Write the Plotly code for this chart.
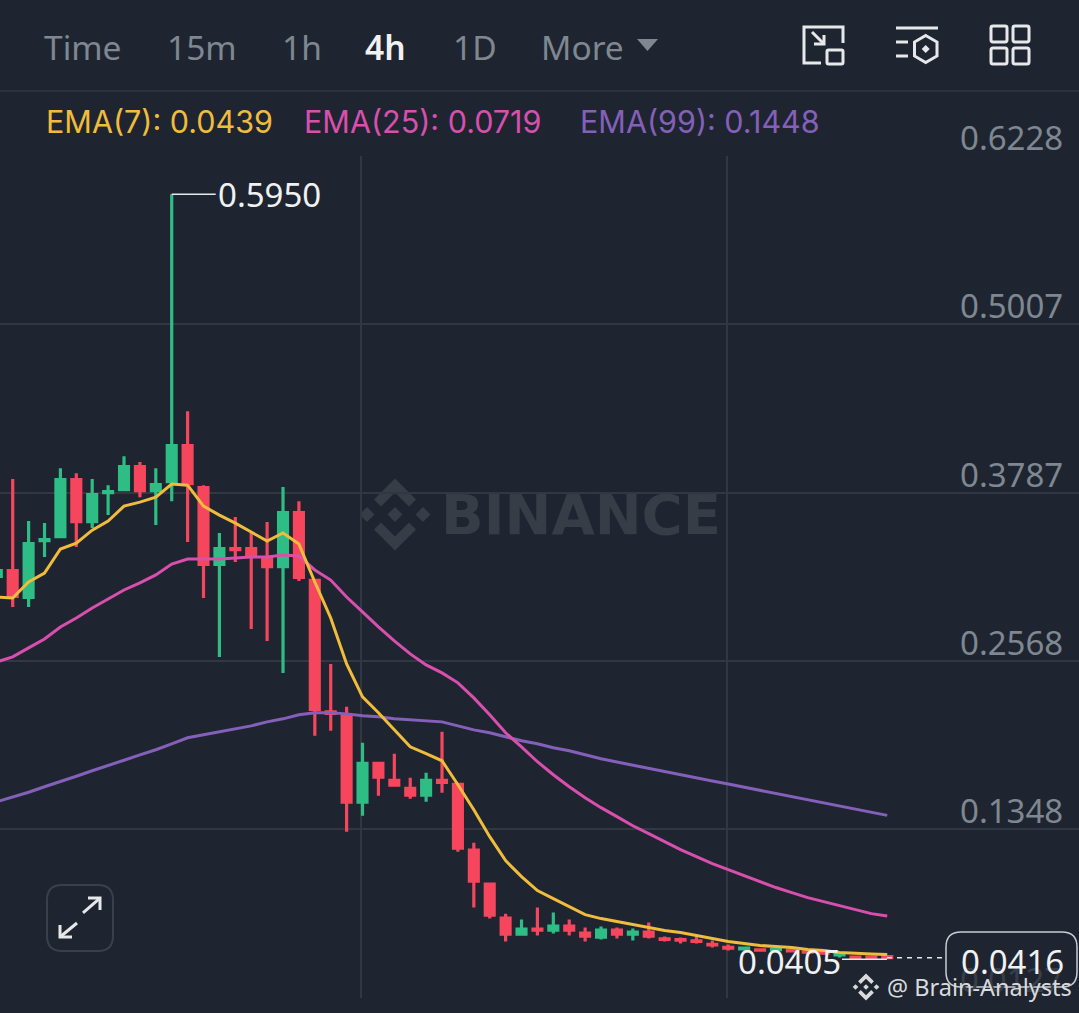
import plotly.graph_objects as go

W = 1079
H = 1013
BG = "#1e2530"
GRID = "#323843"
UP = "#2ebd85"
DOWN = "#f6465d"
FONT = "Noto Sans"

candle_idx = list(range(-1, 56))

opens = [.3180, .3223, .3028, .3440, .3469, .3882, .3578, .3788, .3810, .3976, .3802, .3868, .4128, .3824, .3267,
         .3382, .3382, .3310, .3252, .3643, .3151, .2199, .2166, .1544, .1826, .1703, .1645, .1594, .1703, .1674,
         .1196, .0950, .0704, .0588, .0624, .0617, .0646, .0595, .0566, .0617, .0588, .0602, .0554, .0547, .0539,
         .0514, .0492, .0480, .0473, .0475, .0470, .0459, .0451, .0437, .0420, .0420, .0425]
highs = [.3234, .3886, .3582, .3567, .3965, .3929, .3886, .3842, .4052, .4009, .3965, .5950, .4378, .3842, .3495,
         .3611, .3495, .3574, .3828, .3726, .3162, .2546, .2235, .1974, .1837, .1895, .1721, .1757, .2054, .1685,
         .1250, .0961, .0736, .0693, .0780, .0744, .0693, .0635, .0642, .0635, .0628, .0671, .0570, .0563, .0570,
         .0541, .0512, .0497, .0483, .0490, .0483, .0468, .0461, .0454, .0432, .0428, .0427]
lows = [.3169, .2959, .2959, .3321, .3459, .3393, .3531, .3625, .3799, .3755, .3553, .3726, .3430, .3024, .2597,
        .3285, .2800, .2713, .2481, .3147, .2025, .2061, .1330, .1446, .1591, .1656, .1569, .1547, .1612, .1185,
        .0780, .0700, .0534, .0577, .0577, .0592, .0577, .0534, .0548, .0555, .0541, .0555, .0534, .0519, .0519,
        .0490, .0468, .0468, .0461, .0461, .0454, .0447, .0439, .0418, .0410, .0410, .0405]
closes = [.3223, .3035, .3419, .3448, .3882, .3578, .3773, .3795, .3976, .3802, .3846, .4128, .3853, .3267, .3382,
          .3375, .3332, .3252, .3643, .3173, .2217, .2188, .1544, .1826, .1725, .1667, .1594, .1703, .1688, .1211,
          .0972, .0725, .0588, .0624, .0617, .0646, .0617, .0573, .0617, .0588, .0602, .0573, .0550, .0543, .0535,
          .0510, .0486, .0486, .0471, .0477, .0466, .0457, .0449, .0441, .0418, .0418, .0416]

ema7 = [.3031, .3024, .3140, .3205, .3379, .3422, .3516, .3582, .3690, .3719, .3755, .3850, .3842, .3690, .3625,
        .3567, .3502, .3437, .3495, .3415, .3140, .2879, .2546, .2307, .2192, .2068, .1945, .1895, .1844, .1670,
        .1489, .1294, .1120, .1004, .0903, .0845, .0787, .0729, .0700, .0678, .0657, .0635, .0613, .0599, .0577,
        .0555, .0534, .0519, .0505, .0497, .0490, .0476, .0468, .0454, .0447, .0443, .0439]
ema25 = [.2561, .2597, .2662, .2727, .2814, .2879, .2952, .3017, .3082, .3133, .3191, .3270, .3307, .3307, .3307,
         .3314, .3321, .3321, .3335, .3328, .3227, .3154, .3031, .2923, .2814, .2713, .2619, .2539, .2481, .2409,
         .2300, .2177, .2047, .1945, .1837, .1743, .1656, .1576, .1504, .1439, .1373, .1316, .1258, .1200, .1149,
         .1098, .1055, .1011, .0968, .0925, .0888, .0852, .0823, .0794, .0765, .0736, .0719]
ema99 = [.1547, .1580, .1616, .1656, .1692, .1732, .1772, .1808, .1848, .1887, .1924, .1967, .2011, .2032, .2054,
         .2076, .2097, .2126, .2148, .2177, .2192, .2192, .2184, .2170, .2163, .2148, .2141, .2134, .2126, .2097,
         .2068, .2047, .2018, .1989, .1967, .1938, .1916, .1887, .1859, .1835, .1813, .1790, .1767, .1743, .1721,
         .1698, .1675, .1652, .1629, .1606, .1583, .1560, .1537, .1514, .1491, .1468, .1448]

price_ticks = [.6228, .5007, .3787, .2568, .1348, .0128]
price_labels = ["0.6228", "0.5007", "0.3787", "0.2568", "0.1348", "0.0127"]
time_ticks = [21.9, 44.9]
periods = ["Time", "15m", "1h", "4h", "1D", "More"]
period_x = [45, 168, 283, 366, 454, 542]
ema_labels = ["EMA(7): 0.0439", "EMA(25): 0.0719", "EMA(99): 0.1448"]
ema_label_x = [47, 305, 581]
ema_colors = ["#f0bc3c", "#d94fae", "#8560ba"]


def px(x):
    return x / W


def py(y):
    return 1 - y / H


def make_path(points, closed=False):
    s = "M" + " L".join(f"{px(x):.5f},{py(y):.5f}" for x, y in points)
    return s + (" Z" if closed else "")


def round_rect(x0, y0, x1, y1, r):
    # paper-space rounded box, arcs don't convert so use Q
    def p(x, y):
        return f"{px(x):.5f},{py(y):.5f}"
    return (f"M{p(x0 + r, y0)} L{p(x1 - r, y0)} Q{p(x1, y0)} {p(x1, y0 + r)} L{p(x1, y1 - r)} "
            f"Q{p(x1, y1)} {p(x1 - r, y1)} L{p(x0 + r, y1)} Q{p(x0, y1)} {p(x0, y1 - r)} "
            f"L{p(x0, y0 + r)} Q{p(x0, y0)} {p(x0 + r, y0)} Z")


def line_shape(points, color="#e6e8ea", width=3, closed=False, fill=None, layer="above"):
    return dict(type="path", xref="paper", yref="paper", path=make_path(points, closed),
                line=dict(color=color, width=width), fillcolor=fill, layer=layer)


def logo(cx, cy, s, color, layer):
    out = []
    for dx in (-28, 0, 28):
        h = 7.5
        pts = [(cx + dx * s, cy - h * s), (cx + (dx + h) * s, cy), (cx + dx * s, cy + h * s), (cx + (dx - h) * s, cy)]
        out.append(line_shape(pts, color, 0, True, color, layer))
    for sign in (-1, 1):
        pts = [(cx, cy + sign * 36 * s), (cx + 21 * s, cy + sign * 15 * s), (cx + 14 * s, cy + sign * 8 * s),
               (cx, cy + sign * 22 * s), (cx - 14 * s, cy + sign * 8 * s), (cx - 21 * s, cy + sign * 15 * s)]
        out.append(line_shape(pts, color, 0, True, color, layer))
    return out


fig = go.Figure()
fig.add_trace(go.Candlestick(
    x=candle_idx, open=opens, high=highs, low=lows, close=closes,
    increasing=dict(line=dict(color=UP, width=3.2), fillcolor=UP),
    decreasing=dict(line=dict(color=DOWN, width=3.2), fillcolor=DOWN),
    showlegend=False,
))
for vals, col in zip([ema99, ema25, ema7], [ema_colors[2], ema_colors[1], ema_colors[0]]):
    fig.add_trace(go.Scatter(x=candle_idx, y=vals, mode="lines", line=dict(color=col, width=3), showlegend=False))

shapes = []
shapes += logo(395, 514.5, 1, "#373d47", "below")
shapes += logo(866, 987, 0.375, "#d8dadd", "above")
# header divider
shapes.append(line_shape([(0, 91), (W, 91)], "#2c323c", 2, layer="below"))
# window icons
shapes.append(line_shape([(821, 63), (804, 63), (804, 27), (843, 27), (843, 43)]))
shapes.append(dict(type="path", xref="paper", yref="paper", path=round_rect(827, 50, 843, 64, 1.5),
                   line=dict(color="#e6e8ea", width=3)))
shapes.append(line_shape([(812, 32), (824, 44)]))
shapes.append(line_shape([(824, 35), (824, 44), (814, 44)]))
shapes.append(line_shape([(896, 28), (938, 28)]))
shapes.append(line_shape([(896, 42), (908, 42)]))
shapes.append(line_shape([(896, 56), (908, 56)]))
shapes.append(line_shape([(925.7, 35.5), (937, 42), (937, 56), (925.7, 62.5), (914.5, 56), (914.5, 42)], closed=True))
shapes.append(line_shape([(925.7, 45), (929.7, 49), (925.7, 53), (921.7, 49)], "#e6e8ea", 0, True, "#e6e8ea"))
for bx, by in [(991, 26), (1013, 26), (991, 48), (1013, 48)]:
    shapes.append(dict(type="path", xref="paper", yref="paper", path=round_rect(bx, by, bx + 16, by + 16, 2),
                       line=dict(color="#e6e8ea", width=3)))
# dropdown triangle
shapes.append(line_shape([(637, 39), (658, 39), (647.5, 51)], "#7f8791", 0, True, "#7f8791"))
# expand button
shapes.append(dict(type="path", xref="paper", yref="paper", path=round_rect(47, 885, 113, 951, 15),
                   line=dict(color="#3a404b", width=2)))
shapes.append(line_shape([(83, 913), (100, 898)]))
shapes.append(line_shape([(88, 898), (100, 898), (100, 910)]))
shapes.append(line_shape([(77, 923), (60, 937)]))
shapes.append(line_shape([(60, 925), (60, 937), (72, 937)]))
# low price leader, last price line + box
shapes.append(dict(type="line", xref="paper", yref="y", x0=px(842), x1=px(887), y0=min(lows), y1=min(lows),
                   line=dict(color="#e6e8ea", width=1.5)))
shapes.append(dict(type="line", xref="paper", yref="y", x0=px(887), x1=px(945), y0=closes[-1], y1=closes[-1],
                   line=dict(color="#e6e8ea", width=1.5, dash="5px,5px")))
shapes.append(dict(type="path", xref="paper", yref="paper", path=round_rect(946, 932, 1077, 987, 15),
                   line=dict(color="#c9ccd1", width=1.5)))

ann = []
for name, x0 in zip(periods, period_x):
    ann.append(dict(text=name, xref="paper", yref="paper", x=px(x0 - 3), y=py(47), xanchor="left", yanchor="middle",
                    showarrow=False, font=dict(family=FONT, size=33.5, color="#f0f1f2" if name == "4h" else "#7f8791",
                                               weight=600 if name == "4h" else 400)))
for name, x0, col in zip(ema_labels, ema_label_x, ema_colors):
    ann.append(dict(text=name, xref="paper", yref="paper", x=px(x0 - 3), y=py(121), xanchor="left", yanchor="middle",
                    showarrow=False, font=dict(family="Inter", size=30.5, color=col)))
for val, lab in zip(price_ticks, price_labels):
    ann.append(dict(text=lab, xref="paper", yref="y", x=px(1065), y=val, xanchor="right", yanchor="bottom", yshift=-6,
                    showarrow=False,
                    font=dict(family=FONT, size=33, color="#383e49" if lab == "0.0127" else "#7f8791")))
ann.append(dict(text="BINANCE", xref="paper", yref="paper", x=px(581), y=py(514), xanchor="center", yanchor="middle",
                showarrow=False, font=dict(family="DejaVu Sans", size=56, color="#373d47", weight=700)))
# high / low markers
ann.append(dict(text="0.5950", x=candle_idx[highs.index(max(highs))], y=max(highs), ax=44, ay=0, xanchor="left",
                yanchor="middle", showarrow=True, arrowhead=0, arrowwidth=1.5, arrowcolor="#e6e8ea", standoff=0,
                font=dict(family=FONT, size=33, color="#f0f1f2")))
ann.append(dict(text="0.0405", xref="paper", yref="y", x=px(843), y=min(lows), xanchor="right", yanchor="middle",
                yshift=-2, showarrow=False, font=dict(family=FONT, size=33, color="#f0f1f2")))
ann.append(dict(text="0.0416", xref="paper", yref="paper", x=px(1012), y=py(961), xanchor="center", yanchor="middle",
                showarrow=False, font=dict(family=FONT, size=33, color="#f0f1f2")))
ann.append(dict(text="@ Brain-Analysts", xref="paper", yref="paper", x=px(885), y=py(987), xanchor="left",
                yanchor="middle", showarrow=False, font=dict(family=FONT, size=23.5, color="#d8dadd")))

fig.update_layout(
    width=W, height=H,
    margin=dict(l=0, r=0, t=0, b=0),
    paper_bgcolor=BG,
    plot_bgcolor="rgba(0,0,0,0)",
    boxgap=0.2,
    showlegend=False,
    shapes=shapes,
    annotations=ann,
    font=dict(family=FONT),
    xaxis=dict(range=[-0.799, 67.06], rangeslider=dict(visible=False), tickvals=time_ticks, showticklabels=False,
               showgrid=True, gridcolor=GRID, gridwidth=1.5, zeroline=False, ticks=""),
    yaxis=dict(domain=[15.5 / H, 857 / H], range=[price_ticks[-1], price_ticks[0]], tickvals=price_ticks,
               showticklabels=False, showgrid=True, gridcolor=GRID, gridwidth=1.5, zeroline=False, ticks=""),
)

fig.write_html("out.html", config=dict(displayModeBar=False),
               post_script="document.body.style.margin='0';")
